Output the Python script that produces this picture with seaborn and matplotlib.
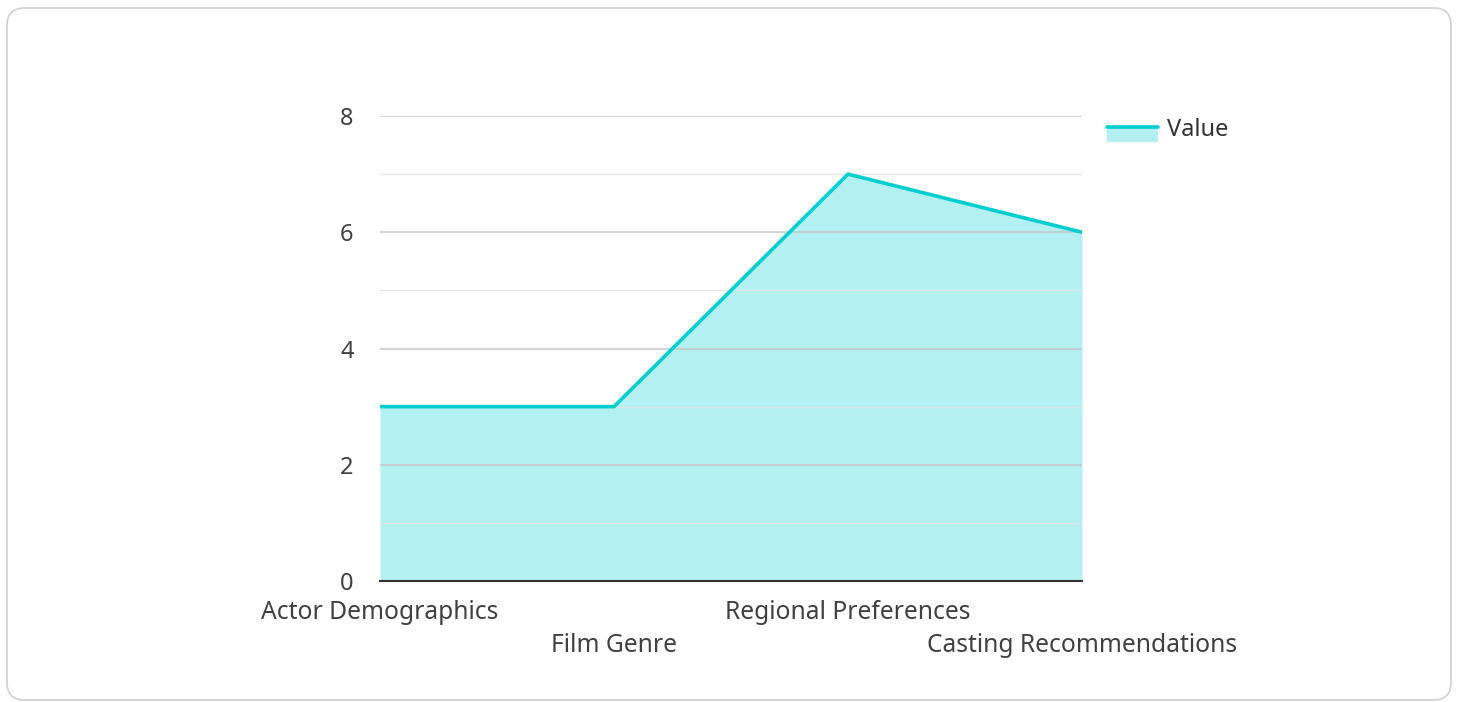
import matplotlib
matplotlib.use("Agg")
import matplotlib.pyplot as plt
import seaborn as sns
import pandas as pd
from matplotlib.patches import FancyBboxPatch, Rectangle
from matplotlib.lines import Line2D
from matplotlib.legend_handler import HandlerBase

categories = ["Actor Demographics", "Film Genre", "Regional Preferences", "Casting Recommendations"]
values = [3, 3, 7, 6]
series_name = "Value"

sns.set_style("white")
plt.rcParams['font.family'] = ['Noto Sans', 'DejaVu Sans']

LINE = "#00CED1"
TEXT = "#404040"

df = pd.DataFrame({"pos": range(len(categories)), "cat": categories, "val": values})

fig = plt.figure(figsize=(14.58, 7.02), dpi=100)
fig.patch.set_facecolor("white")
border = FancyBboxPatch((7 / 1458, 2 / 702), 1444 / 1458, 692 / 702,
                        boxstyle="round,pad=0,rounding_size=0.012",
                        transform=fig.transFigure, facecolor="none",
                        edgecolor="#d0d0d0", linewidth=1.2, zorder=-10,
                        mutation_aspect=1458 / 702)
fig.patches.append(border)

ax = fig.add_axes([380 / 1458, 1 - 581 / 702, 702 / 1458, 465 / 702])
ax.set_facecolor("none")

ax.fill_between(df["pos"], 0, df["val"], color=LINE, alpha=0.3, linewidth=0, zorder=1)
sns.lineplot(data=df, x="pos", y="val", ax=ax, color=LINE, linewidth=2.6, zorder=3, legend=False)

ax.set_xlim(0, len(categories) - 1)
ax.set_ylim(0, 8)
ax.set_yticks([0, 2, 4, 6, 8])
ax.set_yticks([1, 3, 5, 7], minor=True)
ax.grid(True, which="major", axis="y", color="#c4c4c4", linewidth=1.1, alpha=0.95, zorder=2)
ax.grid(True, which="minor", axis="y", color="#e4e4e4", linewidth=1.0, alpha=0.9, zorder=2)
ax.set_axisbelow(False)
for s in ["top", "right", "left"]:
    ax.spines[s].set_visible(False)
ax.spines["bottom"].set_color("#333333")
ax.spines["bottom"].set_linewidth(1.5)
ax.spines["bottom"].set_zorder(4)

ax.set_xticks(df["pos"])
ax.set_xticklabels(categories)
ax.tick_params(axis="x", length=0, labelsize=17.7, labelcolor=TEXT)
ax.tick_params(axis="y", which="both", length=0, labelsize=17, labelcolor=TEXT, pad=19)
for i, t in enumerate(ax.xaxis.get_major_ticks()):
    t.set_pad(13.5 if i % 2 == 0 else 37.5)
ax.set_xlabel("")
ax.set_ylabel("")


class AreaHandler(HandlerBase):
    def create_artists(self, legend, orig_handle, xdescent, ydescent, width, height, fontsize, trans):
        y0 = -ydescent - 4.5
        r = Rectangle((-xdescent, y0), width, height, facecolor=LINE, alpha=0.3,
                      linewidth=0, transform=trans)
        l = Line2D([-xdescent, -xdescent + width], [y0 + height, y0 + height],
                   color=LINE, linewidth=2.6, transform=trans)
        return [r, l]


proxy = Rectangle((0, 0), 1, 1)
fig.legend([proxy], [series_name], handler_map={Rectangle: AreaHandler()},
           loc="upper left", bbox_to_anchor=(1086 / 1458, 1 - 97 / 702),
           frameon=False, fontsize=17, handlelength=2.15, handleheight=0.6,
           handletextpad=0.4, labelcolor="#333333")

fig.savefig("out.png", dpi=100, facecolor="white")
